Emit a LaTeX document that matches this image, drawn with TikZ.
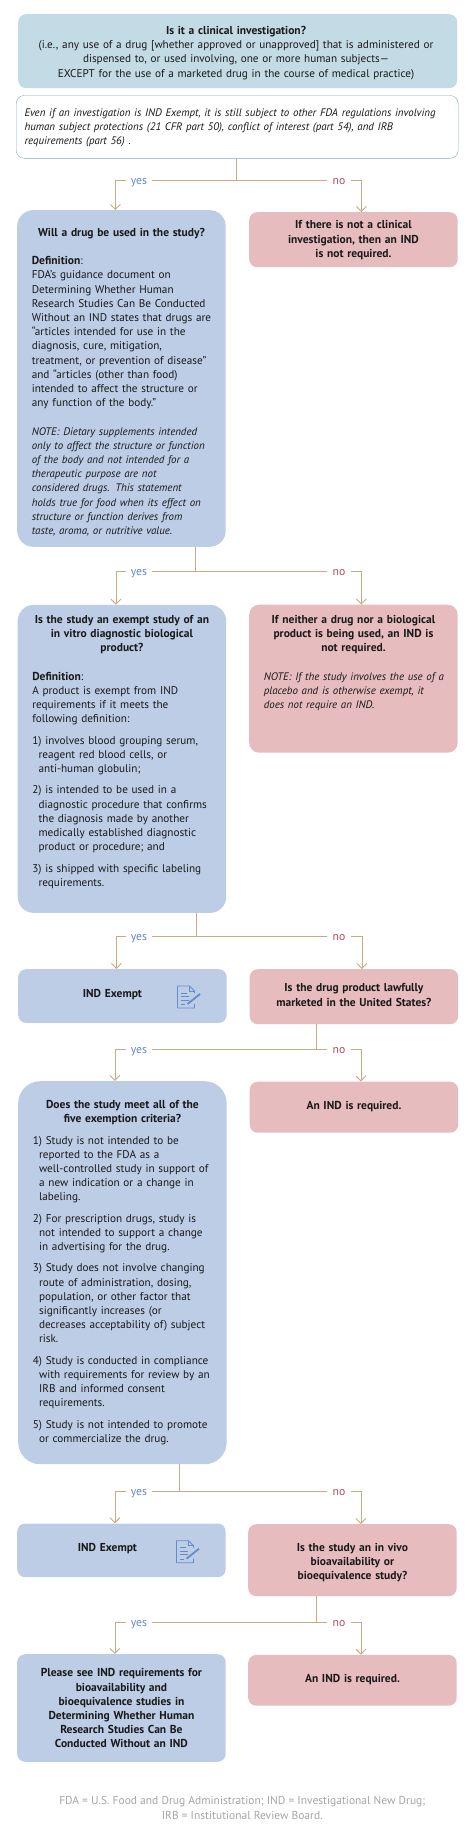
\documentclass[tikz,border=0pt]{standalone}
\usepackage{fontspec}
\setmainfont{PT Sans}
\usepackage{tikz}
\usetikzlibrary{arrows.meta}
\definecolor{indTeal}{RGB}{195, 219, 229}
\definecolor{indEdge}{RGB}{130, 170, 190}
\definecolor{indBlue}{RGB}{189, 205, 230}
\definecolor{indRed}{RGB}{231, 188, 191}
\definecolor{indTan}{RGB}{203, 169, 129}
\definecolor{yesBlue}{RGB}{100, 135, 190}
\definecolor{noRed}{RGB}{180, 75, 90}
\definecolor{iconBlue}{RGB}{100, 140, 205}
\definecolor{footGray}{RGB}{165, 165, 165}
\newcommand{\qbold}{\fontsize{11.5}{14.2}\selectfont\bfseries}
\newcommand{\qhead}[1]{{\centering\qbold #1\par}}
\newcommand{\qbody}{\leftskip=9.6pt\let\\\newline}
\newcommand{\qnote}{\fontsize{10.9}{14.2}\selectfont\itshape}
\newcommand{\qitem}[2]{\par\vspace{7.1pt}\hangindent=6.3pt\hangafter=1 #1 #2\par}
\newcommand{\qgap}{\par\vspace{14.2pt}}

\begin{document}
\begin{tikzpicture}[x=1pt, y=-1pt,
  panel/.style={anchor=north west, inner xsep=5pt, inner ysep=0pt,
                font=\fontsize{11.2}{14.2}\selectfont, text=black!90},
  blue/.style={panel, fill=indBlue, rounded corners=#1, text width=198.5pt},
  blue/.default=8pt,
  red/.style={panel, fill=indRed, rounded corners=#1, text width=198.5pt},
  red/.default=8pt,
  tag/.style={inner xsep=5pt, inner ysep=0pt, text height=8pt, text depth=0pt,
              font=\fontsize{11.7}{14.2}\selectfont},
  yes/.style={tag, text=yesBlue},
  no/.style={tag, text=noRed},
  line/.style={draw=indTan, line width=0.9pt},
  arrow/.style={line, -{Straight Barb[length=5pt, width=10pt]}},
  docicon/.pic={
    \draw[iconBlue, line width=0.8pt, line join=round]
      (17,7) -- (17,5) -- (12,0) -- (0,0) -- (0,22) -- (17,22) -- (17,18);
    \draw[iconBlue, line width=0.6pt] (12,0) -- (12,5) -- (17,5);
    \draw[iconBlue, line width=0.6pt] (3,7) -- (9,7) (3,10.5) -- (11,10.5)
      (3,14) -- (11,14) (3,18.5) -- (7,18.5);
    \draw[iconBlue, line width=1.8pt] (10,18) -- (22.5,8);
  },
]
  \useasboundingbox (0,0) rectangle (474,1836);

  \node[panel, fill=indTeal, rounded corners=8pt, text width=429pt,
        text height=20.3pt, text depth=53.7pt] (clinical) at (18,14)
    {\centering\rightskip=3.4pt plus 1fil
     {\qbold Is it a clinical investigation?}\\
     (i.e., any use of a drug [whether approved or unapproved] that is administered or\\
     dispensed to, or used involving, one or more human subjects—\\
     EXCEPT for the use of a marketed drug in the course of medical practice)\par};
  \node[panel, fill=white, draw=indEdge, rounded corners=8pt, text width=432pt,
        text height=20.8pt, text depth=42pt] (even) at (16,95.3)
    {\qbody\leftskip=3.3pt\qnote
     Even if an investigation is IND Exempt, it is still subject to other FDA regulations involving\\
     human subject protections (21 CFR part 50), conflict of interest (part 54), and IRB\\
     requirements (part 56) .\par};

  \node[blue=16pt, text height=26pt, text depth=310.6pt] (drug) at (17,210)
    {\qbody\qhead{Will a drug be used in the study?}
     \qgap
     {\qbold Definition}:\\
     FDA’s guidance document on\\
     Determining Whether Human\\
     Research Studies Can Be Conducted\\
     Without an IND states that drugs are\\
     “articles intended for use in the\\
     diagnosis, cure, mitigation,\\
     treatment, or prevention of disease”\\
     and “articles (other than food)\\
     intended to affect the structure or\\
     any function of the body.”
     \qgap
     \qnote NOTE: Dietary supplements intended\\
     only to affect the structure or function\\
     of the body and not intended for a\\
     therapeutic purpose are not\\
     considered drugs. This statement\\
     holds true for food when its effect on\\
     structure or function derives from\\
     taste, aroma, or nutritive value.\par};
  \node[red, text height=16.7pt, text depth=38.3pt] (noclinical) at (249,212)
    {\qbody\qhead{If there is not a clinical\\
     investigation, then an IND\\
     is not required.}};

  \node[blue=16pt, text height=18.6pt, text depth=289.4pt] (exempt) at (17.5,604.7)
    {\qbody\qhead{Is the study an exempt study of an\\
     in vitro diagnostic biological\\
     product?}
     \qgap
     {\qbold Definition}:\\
     A product is exempt from IND\\
     requirements if it meets the\\
     following definition:
     \qitem{1)}{involves blood grouping serum,\\
     reagent red blood cells, or\\
     anti-human globulin;}
     \qitem{2)}{is intended to be used in a\\
     diagnostic procedure that confirms\\
     the diagnosis made by another\\
     medically established diagnostic\\
     product or procedure; and}
     \qitem{3)}{is shipped with specific labeling\\
     requirements.}};
  \node[red=10pt, text height=18.8pt, text depth=129.2pt] (nodrug) at (249,604.5)
    {\qbody\qhead{If neither a drug nor a biological\\
     product is being used, an IND is\\
     not required.}
     \qgap
     \qnote NOTE: If the study involves the use of a\\
     placebo and is otherwise exempt, it\\
     does not require an IND.\par};

  \node[blue, text height=28.3pt, text depth=25.4pt] (indone) at (18,969)
    {\qhead{\hspace*{-20pt}IND Exempt}};
  \pic at (177.5,986) {docicon};
  \node[red, text height=22.7pt, text depth=32.3pt] (marketed) at (249.5,969)
    {\qhead{Is the drug product lawfully\\
     marketed in the United States?}};

  \node[blue=22pt, text height=27.3pt, text depth=355.7pt] (criteria) at (18,1081)
    {\qbody\qhead{Does the study meet all of the\\
     five exemption criteria?}
     \qitem{1)}{Study is not intended to be\\
     reported to the FDA as a\\
     well-controlled study in support of\\
     a new indication or a change in\\
     labeling.}
     \qitem{2)}{For prescription drugs, study is\\
     not intended to support a change\\
     in advertising for the drug.}
     \qitem{3)}{Study does not involve changing\\
     route of administration, dosing,\\
     population, or other factor that\\
     significantly increases (or\\
     decreases acceptability of) subject\\
     risk.}
     \qitem{4)}{Study is conducted in compliance\\
     with requirements for review by an\\
     IRB and informed consent\\
     requirements.}
     \qitem{5)}{Study is not intended to promote\\
     or commercialize the drug.}};
  \node[red, text height=27.5pt, text depth=23.5pt] (required) at (249.5,1081.5)
    {\qhead{An IND is required.}};

  \node[blue, text height=28.4pt, text depth=25.3pt] (indtwo) at (17,1523.3)
    {\qhead{\hspace*{-28pt}IND Exempt}};
  \pic at (176.5,1540.7) {docicon};
  \node[red, text height=27.3pt, text depth=44.7pt] (vivo) at (248,1524)
    {\qhead{Is the study an in vivo\\
     bioavailability or\\
     bioequivalence study?}};

  \node[blue, text height=22.7pt, text depth=84.9pt] (please) at (17,1654)
    {\qhead{Please see IND requirements for\\
     bioavailability and\\
     bioequivalence studies in\\
     Determining Whether Human\\
     Research Studies Can Be\\
     Conducted Without an IND}};
  \node[red, text height=27.3pt, text depth=23.5pt] (requiredtwo) at (248,1654.7)
    {\qhead{An IND is required.}};

  \node[align=center, text=footGray, inner sep=0pt,
        font=\fontsize{11.5}{14.5}\selectfont] (abbrev) at (242.3,1808)
    {FDA = U.S. Food and Drug Administration; IND = Investigational New Drug;\\
     IRB = Institutional Review Board.};

  \coordinate (forkone) at (236.5,180);
  \node[yes] (yone) at (139,180) {yes};
  \node[no] (none) at (339,180) {no};
  \draw[line] (forkone |- even.south) -- (forkone);
  \draw[line] (none.west) -- (yone.east);
  \draw[arrow] (yone.west) -| ([xshift=-6pt]drug.north);
  \draw[arrow] (none.east) -| ([xshift=8pt]noclinical.north);

  \coordinate (forktwo) at (195,571.7);
  \node[yes] (ytwo) at (139,571.7) {yes};
  \node[no] (ntwo) at (339,571.7) {no};
  \draw[line] (forktwo |- drug.south) -- (forktwo);
  \draw[line] (ntwo.west) -- (ytwo.east);
  \draw[arrow] (ytwo.west) -| ([xshift=-6pt]exempt.north);
  \draw[arrow] (ntwo.east) -| ([xshift=8pt]nodrug.north);

  \coordinate (forkthree) at (196,936.7);
  \node[yes] (ythree) at (139,936.7) {yes};
  \node[no] (nthree) at (339,936.7) {no};
  \draw[line] (forkthree |- exempt.south) -- (forkthree);
  \draw[line] (nthree.west) -- (ythree.east);
  \draw[arrow] (ythree.west) -| ([xshift=-6pt]indone.north);
  \draw[arrow] (nthree.east) -| ([xshift=8pt]marketed.north);

  \coordinate (forkfour) at (316.5,1049);
  \node[yes] (yfour) at (139,1049) {yes};
  \node[no] (nfour) at (339,1049) {no};
  \draw[line] (forkfour |- marketed.south) -- (forkfour);
  \draw[line] (nfour.west) -- (yfour.east);
  \draw[arrow] (yfour.west) -| ([xshift=-7.5pt]criteria.north);
  \draw[arrow] (nfour.east) -| ([xshift=7pt]required.north);

  \coordinate (forkfive) at (179.5,1491.3);
  \node[yes] (yfive) at (139,1491.3) {yes};
  \node[no] (nfive) at (339,1491.3) {no};
  \draw[line] (forkfive |- criteria.south) -- (forkfive);
  \draw[line] (nfive.west) -- (yfive.east);
  \draw[arrow] (yfive.west) -| ([xshift=-6.5pt]indtwo.north);
  \draw[arrow] (nfive.east) -| ([xshift=8.5pt]vivo.north);

  \coordinate (forksix) at (316.5,1622);
  \node[yes] (ysix) at (139,1622) {yes};
  \node[no] (nsix) at (339,1622) {no};
  \draw[line] (forksix |- vivo.south) -- (forksix);
  \draw[line] (nsix.west) -- (ysix.east);
  \draw[arrow] (ysix.west) -| ([xshift=-6.5pt]please.north);
  \draw[arrow] (nsix.east) -| ([xshift=8.5pt]requiredtwo.north);
\end{tikzpicture}
\end{document}
